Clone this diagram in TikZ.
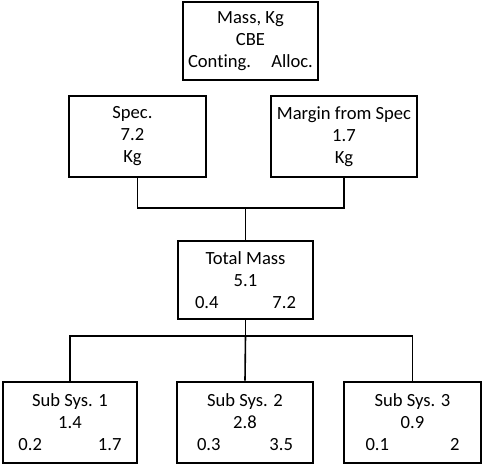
\documentclass[tikz,border=0pt]{standalone}
\usepackage{fontspec}
\setmainfont{Carlito}[Ligatures=NoCommon]
\begin{document}
\begin{tikzpicture}[x=1pt,y=-1pt,
  box/.style={draw,line width=2.7pt,rectangle,inner sep=0pt,minimum height=81pt,
    align=center,font=\fontsize{18.6}{22}\selectfont},
  conn/.style={line width=1.6pt}]
\useasboundingbox (0,0) rectangle (483,470);
\node[box,minimum width=135pt,minimum height=78pt] (top) at (250.5,41)
  {Mass, Kg\\CBE\\\makebox[125pt]{Conting.\hfill Alloc.}};
\node[box,minimum width=137pt] (spec) at (137.5,136.5)
  {\hspace*{-10pt}Spec.\\\hspace*{-10pt}7.2\\\hspace*{-10pt}Kg};
\node[box,minimum width=146pt] (margin) at (344,136.5)
  {Margin from Spec\\1.7\\Kg};
\node[box,minimum width=135pt,minimum height=78pt] (total) at (245.5,280)
  {Total Mass\\5.1\\\makebox[101pt]{0.4\hfill 7.2}};
\node[box,minimum width=134pt] (sub1) at (70,422.5)
  {Sub Sys. 1\\1.4\\\makebox[103pt]{0.2\hfill 1.7}};
\node[box,minimum width=136pt] (sub2) at (245,422.5)
  {Sub Sys. 2\\2.8\\\makebox[96pt]{0.3\hfill 3.5}};
\node[box,minimum width=137pt] (sub3) at (412.5,422.5)
  {Sub Sys. 3\\0.9\\\makebox[94pt]{0.1\hfill 2}};
\coordinate (j1) at (245.5,208);
\coordinate (j2) at (245.5,336);
\draw[conn] (spec.south) |- (j1);
\draw[conn] (margin.south) |- (j1);
\draw[conn] (j1) -- (total.north);
\draw[conn] (total.south) -- (j2);
\draw[conn] (j2) -| (sub1.north);
\draw[conn] (j2) -| (sub3.north);
\draw[conn] (j2) -- (sub2.north);
\end{tikzpicture}
\end{document}
